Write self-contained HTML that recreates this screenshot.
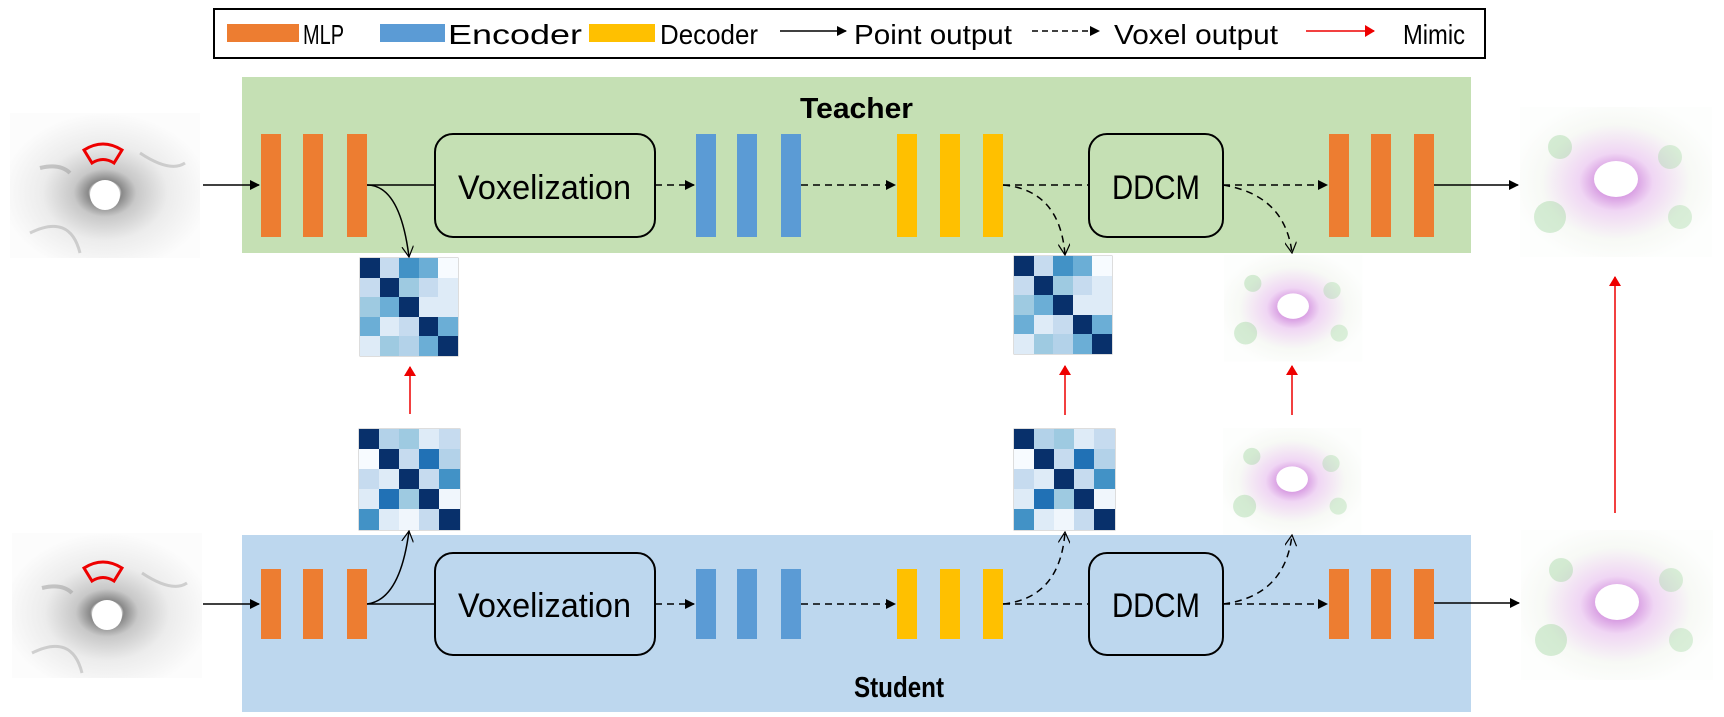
<!DOCTYPE html>
<html><head><meta charset="utf-8"><style>
html,body{margin:0;padding:0;background:#fff;}
svg{display:block;font-family:"Liberation Sans",sans-serif;}
</style></head><body>
<svg width="1724" height="717" viewBox="0 0 1724 717" xmlns="http://www.w3.org/2000/svg">
<defs>
<marker id="ah" markerWidth="10" markerHeight="10" refX="9" refY="5" orient="auto" markerUnits="userSpaceOnUse"><path d="M0,0 L10,5 L0,10 z" fill="#000"/></marker>
<marker id="ar" markerWidth="10" markerHeight="12" refX="9" refY="6" orient="auto" markerUnits="userSpaceOnUse"><path d="M0,0 L10,6 L0,12 z" fill="#e00"/></marker>
<marker id="ao" markerWidth="12" markerHeight="12" refX="11" refY="6" orient="auto" markerUnits="userSpaceOnUse"><path d="M0,0 L11,6 L0,12" fill="none" stroke="#000" stroke-width="1.2"/></marker>
<radialGradient id="gray" cx="50%" cy="55%" r="55%"><stop offset="0.13" stop-color="#fff"/><stop offset="0.16" stop-color="#888"/><stop offset="0.3" stop-color="#c8c8c8"/><stop offset="0.6" stop-color="#ececec"/><stop offset="1" stop-color="#fcfcfc"/></radialGradient>
<radialGradient id="col" cx="50%" cy="50%" r="55%"><stop offset="0.13" stop-color="#fff"/><stop offset="0.16" stop-color="#d596e0"/><stop offset="0.35" stop-color="#f0d6f4"/><stop offset="0.7" stop-color="#f7f9f5"/><stop offset="1" stop-color="#fdfefd"/></radialGradient>
<g id="pcg">
<rect x="0" y="0" width="190" height="145" fill="url(#gray)"/>
<circle cx="95" cy="82" r="15" fill="#fff"/>
<path d="M20,120 Q60,100 70,140" stroke="#aaa" stroke-width="3" fill="none" opacity="0.5"/>
<path d="M30,55 Q50,50 60,60" stroke="#999" stroke-width="4" fill="none" opacity="0.5"/>
<path d="M130,40 Q160,60 175,50" stroke="#aaa" stroke-width="3" fill="none" opacity="0.5"/>
</g>
<g id="pcc">
<rect x="0" y="0" width="192" height="150" fill="url(#col)"/>
<ellipse cx="96" cy="72" rx="22" ry="18" fill="#fff"/>
<circle cx="30" cy="110" r="16" fill="#8fcf8f" opacity="0.35"/>
<circle cx="40" cy="40" r="12" fill="#8fcf8f" opacity="0.35"/>
<circle cx="150" cy="50" r="12" fill="#8fcf8f" opacity="0.3"/>
<circle cx="160" cy="110" r="12" fill="#8fcf8f" opacity="0.3"/>
</g>
</defs>

<!-- legend -->
<rect x="214" y="9" width="1271" height="49" fill="#fff" stroke="#000" stroke-width="2"/>
<g font-size="28">
<rect x="227" y="24" width="72" height="18" fill="#ed7d31"/><text x="303" y="44" textLength="41" lengthAdjust="spacingAndGlyphs">MLP</text>
<rect x="380" y="24" width="65" height="18" fill="#5b9bd5"/><text x="448" y="44" textLength="134" lengthAdjust="spacingAndGlyphs">Encoder</text>
<rect x="589" y="24" width="66" height="18" fill="#ffc000"/><text x="660" y="44" textLength="98" lengthAdjust="spacingAndGlyphs">Decoder</text>
<line x1="780" y1="31" x2="846" y2="31" stroke="#000" stroke-width="1.5" marker-end="url(#ah)"/><text x="854" y="44" textLength="158" lengthAdjust="spacingAndGlyphs">Point output</text>
<line x1="1032" y1="31" x2="1099" y2="31" stroke="#000" stroke-width="1.5" stroke-dasharray="6,4" marker-end="url(#ah)"/><text x="1114" y="44" textLength="164" lengthAdjust="spacingAndGlyphs">Voxel output</text>
<line x1="1306" y1="31" x2="1374" y2="31" stroke="#e00" stroke-width="1.5" marker-end="url(#ar)"/><text x="1403" y="44" textLength="62" lengthAdjust="spacingAndGlyphs">Mimic</text>
</g>

<!-- panels -->
<rect x="242" y="77" width="1229" height="176" fill="#c5e0b4"/>
<rect x="242" y="535" width="1229" height="177" fill="#bdd7ee"/>
<text x="800" y="118" font-size="29" font-weight="bold" textLength="113" lengthAdjust="spacingAndGlyphs">Teacher</text>
<text x="854" y="697" font-size="29" font-weight="bold" textLength="90" lengthAdjust="spacingAndGlyphs">Student</text>

<!-- teacher bars -->
<g fill="#ed7d31"><rect x="261" y="134" width="20" height="103"/><rect x="303" y="134" width="20" height="103"/><rect x="347" y="134" width="20" height="103"/>
<rect x="1329" y="134" width="20" height="103"/><rect x="1371" y="134" width="20" height="103"/><rect x="1414" y="134" width="20" height="103"/></g>
<g fill="#5b9bd5"><rect x="696" y="134" width="20" height="103"/><rect x="737" y="134" width="20" height="103"/><rect x="781" y="134" width="20" height="103"/></g>
<g fill="#ffc000"><rect x="897" y="134" width="20" height="103"/><rect x="940" y="134" width="20" height="103"/><rect x="983" y="134" width="20" height="103"/></g>
<rect x="435" y="134" width="220" height="103" rx="18" fill="none" stroke="#000" stroke-width="2"/>
<text x="458" y="199" font-size="34" textLength="173" lengthAdjust="spacingAndGlyphs">Voxelization</text>
<rect x="1089" y="134" width="134" height="103" rx="18" fill="none" stroke="#000" stroke-width="2"/>
<text x="1112" y="199" font-size="34" textLength="88" lengthAdjust="spacingAndGlyphs">DDCM</text>

<!-- student bars -->
<g fill="#ed7d31"><rect x="261" y="569" width="20" height="70"/><rect x="303" y="569" width="20" height="70"/><rect x="347" y="569" width="20" height="70"/>
<rect x="1329" y="569" width="20" height="70"/><rect x="1371" y="569" width="20" height="70"/><rect x="1414" y="569" width="20" height="70"/></g>
<g fill="#5b9bd5"><rect x="696" y="569" width="20" height="70"/><rect x="737" y="569" width="20" height="70"/><rect x="781" y="569" width="20" height="70"/></g>
<g fill="#ffc000"><rect x="897" y="569" width="20" height="70"/><rect x="940" y="569" width="20" height="70"/><rect x="983" y="569" width="20" height="70"/></g>
<rect x="435" y="553" width="220" height="102" rx="18" fill="none" stroke="#000" stroke-width="2"/>
<text x="458" y="617" font-size="34" textLength="173" lengthAdjust="spacingAndGlyphs">Voxelization</text>
<rect x="1089" y="553" width="134" height="102" rx="18" fill="none" stroke="#000" stroke-width="2"/>
<text x="1112" y="617" font-size="34" textLength="88" lengthAdjust="spacingAndGlyphs">DDCM</text>

<!-- point clouds -->
<use href="#pcg" x="10" y="113"/>
<use href="#pcg" x="12" y="533"/>
<path d="M84,150 Q103,138 122,150 L114,163 Q103,156 92,163 Z" fill="none" stroke="#e00" stroke-width="3"/>
<path d="M84,568 Q103,556 122,568 L114,581 Q103,574 92,581 Z" fill="none" stroke="#e00" stroke-width="3"/>
<use href="#pcc" x="1520" y="107"/>
<use href="#pcc" x="1521" y="530"/>
<g transform="translate(1224,255) scale(0.72,0.71)"><use href="#pcc"/></g>
<g transform="translate(1223,428) scale(0.72,0.71)"><use href="#pcc"/></g>

<!-- matrices -->
<g id="tm"><g transform="translate(360,258)">
<rect width="98" height="98" fill="#fff" stroke="#bbb"/>
<rect x="0" y="0" width="20" height="20" fill="#08306b"/><rect x="20" y="0" width="20" height="20" fill="#c6dbef"/><rect x="39" y="0" width="20" height="20" fill="#4292c6"/><rect x="59" y="0" width="20" height="20" fill="#6baed6"/><rect x="78" y="0" width="20" height="20" fill="#f7fbff"/>
<rect x="0" y="20" width="20" height="20" fill="#c6dbef"/><rect x="20" y="20" width="20" height="20" fill="#08306b"/><rect x="39" y="20" width="20" height="20" fill="#9ecae1"/><rect x="59" y="20" width="20" height="20" fill="#c6dbef"/><rect x="78" y="20" width="20" height="20" fill="#deebf7"/>
<rect x="0" y="39" width="20" height="20" fill="#9ecae1"/><rect x="20" y="39" width="20" height="20" fill="#6baed6"/><rect x="39" y="39" width="20" height="20" fill="#08306b"/><rect x="59" y="39" width="20" height="20" fill="#deebf7"/><rect x="78" y="39" width="20" height="20" fill="#deebf7"/>
<rect x="0" y="59" width="20" height="20" fill="#6baed6"/><rect x="20" y="59" width="20" height="20" fill="#deebf7"/><rect x="39" y="59" width="20" height="20" fill="#c6dbef"/><rect x="59" y="59" width="20" height="20" fill="#08306b"/><rect x="78" y="59" width="20" height="20" fill="#6baed6"/>
<rect x="0" y="78" width="20" height="20" fill="#deebf7"/><rect x="20" y="78" width="20" height="20" fill="#9ecae1"/><rect x="39" y="78" width="20" height="20" fill="#b3d2e9"/><rect x="59" y="78" width="20" height="20" fill="#6baed6"/><rect x="78" y="78" width="20" height="20" fill="#08306b"/>
</g></g>
<use href="#tm" x="654" y="-2"/>
<g id="sm">
<g transform="translate(359,429)">
<rect width="101" height="101" fill="#fff" stroke="#bbb"/>
<rect x="0" y="0" width="21" height="21" fill="#08306b"/><rect x="20" y="0" width="21" height="21" fill="#b3d2e9"/><rect x="40" y="0" width="21" height="21" fill="#9ecae1"/><rect x="60" y="0" width="21" height="21" fill="#deebf7"/><rect x="80" y="0" width="21" height="21" fill="#c6dbef"/>
<rect x="0" y="20" width="21" height="21" fill="#f7fbff"/><rect x="20" y="20" width="21" height="21" fill="#08306b"/><rect x="40" y="20" width="21" height="21" fill="#c6dbef"/><rect x="60" y="20" width="21" height="21" fill="#2171b5"/><rect x="80" y="20" width="21" height="21" fill="#b3d2e9"/>
<rect x="0" y="40" width="21" height="21" fill="#c6dbef"/><rect x="20" y="40" width="21" height="21" fill="#deebf7"/><rect x="40" y="40" width="21" height="21" fill="#08306b"/><rect x="60" y="40" width="21" height="21" fill="#c6dbef"/><rect x="80" y="40" width="21" height="21" fill="#4292c6"/>
<rect x="0" y="60" width="21" height="21" fill="#deebf7"/><rect x="20" y="60" width="21" height="21" fill="#2171b5"/><rect x="40" y="60" width="21" height="21" fill="#9ecae1"/><rect x="60" y="60" width="21" height="21" fill="#08306b"/><rect x="80" y="60" width="21" height="21" fill="#f0f6fc"/>
<rect x="0" y="80" width="21" height="21" fill="#4292c6"/><rect x="20" y="80" width="21" height="21" fill="#deebf7"/><rect x="40" y="80" width="21" height="21" fill="#f0f6fc"/><rect x="60" y="80" width="21" height="21" fill="#c6dbef"/><rect x="80" y="80" width="21" height="21" fill="#08306b"/>
</g></g>
<use href="#sm" x="655" y="0"/>

<!-- teacher connectors -->
<g stroke="#000" stroke-width="1.5" fill="none">
<line x1="203" y1="185" x2="259" y2="185" marker-end="url(#ah)"/>
<line x1="367" y1="185" x2="435" y2="185"/>
<path d="M367,185 Q400,185 409,257" marker-end="url(#ao)"/>
<line x1="1434" y1="185" x2="1518" y2="185" marker-end="url(#ah)"/>
</g>
<g stroke="#000" stroke-width="1.5" fill="none" stroke-dasharray="7,5">
<line x1="655" y1="185" x2="694" y2="185" marker-end="url(#ah)"/>
<line x1="801" y1="185" x2="895" y2="185" marker-end="url(#ah)"/>
<line x1="1003" y1="185" x2="1089" y2="185"/>
<path d="M1003,185 Q1060,190 1065,255" marker-end="url(#ao)"/>
<line x1="1223" y1="185" x2="1327" y2="185" marker-end="url(#ah)"/>
<path d="M1223,185 Q1285,195 1292,253" marker-end="url(#ao)"/>
</g>

<!-- student connectors -->
<g stroke="#000" stroke-width="1.5" fill="none">
<line x1="203" y1="604" x2="259" y2="604" marker-end="url(#ah)"/>
<line x1="367" y1="604" x2="435" y2="604"/>
<path d="M367,604 Q400,600 409,531" marker-end="url(#ao)"/>
<line x1="1434" y1="603" x2="1519" y2="603" marker-end="url(#ah)"/>
</g>
<g stroke="#000" stroke-width="1.5" fill="none" stroke-dasharray="7,5">
<line x1="655" y1="604" x2="694" y2="604" marker-end="url(#ah)"/>
<line x1="801" y1="604" x2="895" y2="604" marker-end="url(#ah)"/>
<line x1="1003" y1="604" x2="1089" y2="604"/>
<path d="M1003,604 Q1060,598 1065,532" marker-end="url(#ao)"/>
<line x1="1223" y1="604" x2="1327" y2="604" marker-end="url(#ah)"/>
<path d="M1223,604 Q1285,596 1292,535" marker-end="url(#ao)"/>
</g>

<!-- mimic arrows -->
<g stroke="#e00" stroke-width="1.5">
<line x1="410" y1="414" x2="410" y2="367" marker-end="url(#ar)"/>
<line x1="1065" y1="415" x2="1065" y2="366" marker-end="url(#ar)"/>
<line x1="1292" y1="415" x2="1292" y2="366" marker-end="url(#ar)"/>
<line x1="1615" y1="513" x2="1615" y2="277" marker-end="url(#ar)"/>
</g>
</svg>
</body></html>
